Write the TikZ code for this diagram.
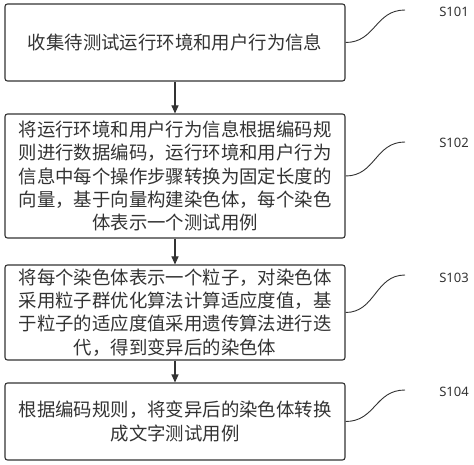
\documentclass[tikz,border=0pt]{standalone}
\usepackage{fontspec}
\setmainfont{Noto Sans CJK SC}
\newfontfamily\labelfont{Noto Sans}
\usetikzlibrary{arrows.meta}
\definecolor{ink}{HTML}{333333}
\begin{document}
\begin{tikzpicture}[x=1pt,y=-1pt,
  stepbox/.style={draw=ink, line width=1.1pt, rounded corners=2.5pt, minimum width=340pt,
    inner sep=0pt, align=center, text=ink, font=\fontsize{18.4}{23.2}\selectfont},
  lbl/.style={text=ink, font=\labelfont\fontsize{13}{15}\selectfont, inner sep=0pt},
  flow/.style={draw=ink, line width=1.1pt, -{Triangle[length=8pt,width=7pt]}},
  lead/.style={draw=ink, line width=0.9pt}]
\useasboundingbox (0,0) rectangle (474,465);
\node[stepbox, minimum height=77pt] (b1) at (175,42.5) {收集待测试运行环境和用户行为信息};
\node[stepbox, minimum height=124pt] (b2) at (175,176) {将运行环境和用户行为信息根据编码规\\则进行数据编码，运行环境和用户行为\\信息中每个操作步骤转换为固定长度的\\向量，基于向量构建染色体，每个染色\\体表示一个测试用例};
\node[stepbox, minimum height=95pt] (b3) at (175,312.5) {将每个染色体表示一个粒子，对染色体\\采用粒子群优化算法计算适应度值，基\\于粒子的适应度值采用遗传算法进行迭\\代，得到变异后的染色体};
\node[stepbox, minimum height=77pt] (b4) at (175,421.5) {根据编码规则，将变异后的染色体转换\\成文字测试用例};
\draw[flow] (b1) -- (b2);
\draw[flow] (b2) -- (b3);
\draw[flow] (b3) -- (b4);
\node[lbl] (l1) at (454,12) {S101};
\node[lbl] (l2) at (454,143) {S102};
\node[lbl] (l3) at (454,278) {S103};
\node[lbl] (l4) at (454,392) {S104};
\coordinate (e1) at (405,10);
\coordinate (e2) at (405,142);
\coordinate (e3) at (405,275);
\coordinate (e4) at (405,390);
\draw[lead] (b1.east) .. controls +(30,0) and +(-30,0) .. (e1);
\draw[lead] (b2.east) .. controls +(30,0) and +(-30,0) .. (e2);
\draw[lead] (b3.east) .. controls +(30,0) and +(-30,0) .. (e3);
\draw[lead] (b4.east) .. controls +(30,0) and +(-30,0) .. (e4);
\end{tikzpicture}
\end{document}
